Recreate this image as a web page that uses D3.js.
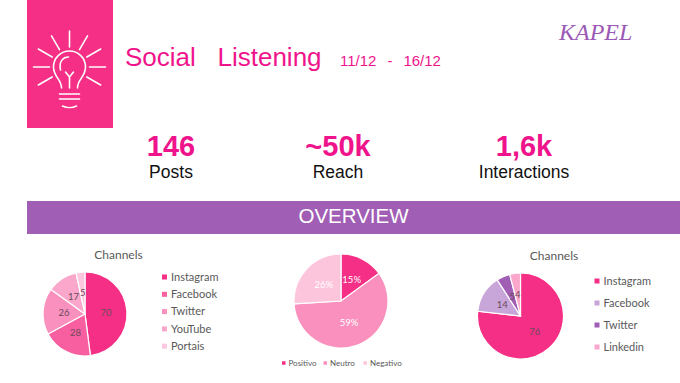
<!DOCTYPE html>
<html>
<head>
<meta charset="utf-8">
<script src="https://cdn.jsdelivr.net/npm/d3@7"></script>
<style>
  html, body { margin: 0; padding: 0; background: #fff; }
  svg { display: block; }
  text { font-family: "Liberation Sans", Arial, sans-serif; }
  .office { font-family: Lato, "Noto Sans", sans-serif; }
</style>
</head>
<body>
<div id="chart"></div>
<script>
// Headline numbers
const kpiValues = ["146", "~50k", "1,6k"];
const kpiLabels = ["Posts", "Reach", "Interactions"];

// Left pie
const channelsA = ["Instagram", "Facebook", "Twitter", "YouTube", "Portais"];
const channelsAValues = [70, 28, 26, 17, 5];
const channelsAColors = ["#f52f85", "#f75fa0", "#fa90bd", "#fba6cb", "#fdc8df"];

// Middle pie
const sentiment = ["Positivo", "Neutro", "Negativo"];
const sentimentValues = [15, 59, 26];
const sentimentColors = ["#f52f85", "#fa90bd", "#fdc5dc"];

// Right pie
const channelsB = ["Instagram", "Facebook", "Twitter", "Linkedin"];
const channelsBValues = [76, 14, 5, 4];
const channelsBColors = ["#f52f85", "#c9a6d9", "#a05eb5", "#fba6cb"];

const width = 680, height = 383;
const pink = "#f52f85", titlePink = "#f0148c", purple = "#a05eb5";

const svg = d3.select("#chart").append("svg")
  .attr("width", width)
  .attr("height", height);

// Header block
svg.append("rect").attr("x", 27).attr("y", 0).attr("width", 86).attr("height", 128).attr("fill", pink);

// Light bulb icon
const bulb = svg.append("g")
  .attr("transform", "translate(69.5,67)")
  .attr("fill", "none")
  .attr("stroke", "#fff")
  .attr("stroke-width", 1.6)
  .attr("stroke-linecap", "round");
[0, 30, 60, 90, 120, -30, -60, -90, -120].forEach(function(a) {
  const r = a * Math.PI / 180;
  bulb.append("line")
    .attr("x1", Math.sin(r) * 20).attr("y1", -Math.cos(r) * 20)
    .attr("x2", Math.sin(r) * 36).attr("y2", -Math.cos(r) * 36);
});
bulb.append("path").attr("d", "M-8,21 C-8,12 -16,10 -16,0 A16,16 0 1 1 16,0 C16,10 8,12 8,21");
bulb.append("path").attr("d", "M-9,3 C-11,-6 -6,-10 -1,-10");
bulb.append("path").attr("d", "M-4,5 L0,10 L4,5 M0,10 L0,21");
bulb.append("path").attr("d", "M-10,27 H10 M-10,32 H10");
bulb.append("path").attr("d", "M-7,39 C-3,41 3,41 7,39");

// Title line
svg.append("text").attr("x", 125).attr("y", 66).attr("font-size", 26).attr("fill", titlePink)
  .style("white-space", "pre").text("Social   Listening");
svg.append("text").attr("x", 340).attr("y", 66).attr("font-size", 15).attr("fill", titlePink)
  .style("white-space", "pre").style("word-spacing", "-0.5px").text("11/12   -   16/12");
svg.append("text").attr("x", 559).attr("y", 40).attr("font-size", 24).attr("fill", "#9b59b6")
  .attr("font-style", "italic").style("font-family", "'Liberation Serif', serif").text("KAPEL");

// KPI row
const kpiCentre = [171, 338, 524];
kpiLabels.forEach(function(label, i) {
  svg.append("text").attr("x", kpiCentre[i]).attr("y", 156).attr("text-anchor", "middle")
    .attr("font-size", 29).attr("font-weight", "bold").attr("fill", titlePink).text(kpiValues[i]);
  svg.append("text").attr("x", kpiCentre[i]).attr("y", 178).attr("text-anchor", "middle")
    .attr("font-size", 17.5).attr("fill", "#111").text(label);
});

// Overview banner
svg.append("rect").attr("x", 27).attr("y", 201).attr("width", 653).attr("height", 33).attr("fill", purple);
svg.append("text").attr("x", 353.5).attr("y", 223).attr("text-anchor", "middle")
  .attr("font-size", 20.5).attr("fill", "#fff").text("OVERVIEW");

// Draws one pie, the label radius is given as a share of the outer radius
function drawPie(opts) {
  const color = d3.scaleOrdinal().domain(opts.names).range(opts.colors);
  const pie = d3.pie().sort(null).value(function(d) { return d.value; });
  const arc = d3.arc().innerRadius(0).outerRadius(opts.r);
  const labelArc = d3.arc().innerRadius(opts.r * opts.labelAt).outerRadius(opts.r * opts.labelAt);
  const rows = opts.names.map(function(n, i) { return { name: n, value: opts.values[i] }; });

  const g = svg.append("g").attr("transform", "translate(" + opts.cx + "," + opts.cy + ")");
  g.selectAll("path").data(pie(rows)).enter().append("path")
    .attr("d", arc)
    .attr("fill", function(d) { return color(d.data.name); })
    .attr("stroke", "#fff")
    .attr("stroke-width", 1.2);
  g.selectAll("text").data(pie(rows)).enter().append("text")
    .attr("class", "office")
    .attr("transform", function(d) { return "translate(" + labelArc.centroid(d) + ")"; })
    .attr("text-anchor", "middle")
    .attr("dy", "0.35em")
    .attr("font-size", opts.labelSize)
    .attr("fill", opts.labelColor)
    .text(function(d) { return d.data.value + opts.suffix; });
}

drawPie({ names: channelsA, values: channelsAValues, colors: channelsAColors,
  cx: 85, cy: 314, r: 42, labelAt: 0.5, labelSize: 9.5, labelColor: "#6b4a5c", suffix: "" });
drawPie({ names: sentiment, values: sentimentValues, colors: sentimentColors,
  cx: 341, cy: 301, r: 47, labelAt: 0.5, labelSize: 9.5, labelColor: "#fff", suffix: "%" });
drawPie({ names: channelsB, values: channelsBValues, colors: channelsBColors,
  cx: 520.5, cy: 316, r: 43, labelAt: 0.5, labelSize: 9.5, labelColor: "#6b4a5c", suffix: "" });

// Chart titles
svg.append("text").attr("class", "office").attr("x", 118.5).attr("y", 259).attr("text-anchor", "middle")
  .attr("font-size", 12).attr("fill", "#595959").text("Channels");
svg.append("text").attr("class", "office").attr("x", 554).attr("y", 260).attr("text-anchor", "middle")
  .attr("font-size", 12).attr("fill", "#595959").text("Channels");

// Vertical legends
function drawLegend(names, colors, x, y0, step, size) {
  const y = d3.scalePoint().domain(names).range([y0, y0 + step * (names.length - 1)]);
  const rows = svg.append("g").selectAll("g").data(names).enter().append("g")
    .attr("transform", function(d) { return "translate(" + x + "," + y(d) + ")"; });
  rows.append("rect").attr("x", 0).attr("y", -2.5).attr("width", 5).attr("height", 5)
    .attr("fill", function(d, i) { return colors[i]; });
  rows.append("text").attr("class", "office").attr("x", 9).attr("dy", "0.35em")
    .attr("font-size", size).attr("fill", "#595959").text(function(d) { return d; });
}
drawLegend(channelsA, channelsAColors, 162, 277, 17.3, 11);
drawLegend(channelsB, channelsBColors, 594.5, 281, 22, 11);

// Bottom legend of the middle pie
const bottomX = [282, 323.5, 363.5];
const bottom = svg.append("g").selectAll("g").data(sentiment).enter().append("g")
  .attr("transform", function(d, i) { return "translate(" + bottomX[i] + ",363)"; });
bottom.append("rect").attr("x", 0).attr("y", -1.75).attr("width", 3.5).attr("height", 3.5)
  .attr("fill", function(d, i) { return sentimentColors[i]; });
bottom.append("text").attr("class", "office").attr("x", 6.5).attr("dy", "0.35em")
  .attr("font-size", 8).attr("fill", "#595959").text(function(d) { return d; });
</script>
</body>
</html>
